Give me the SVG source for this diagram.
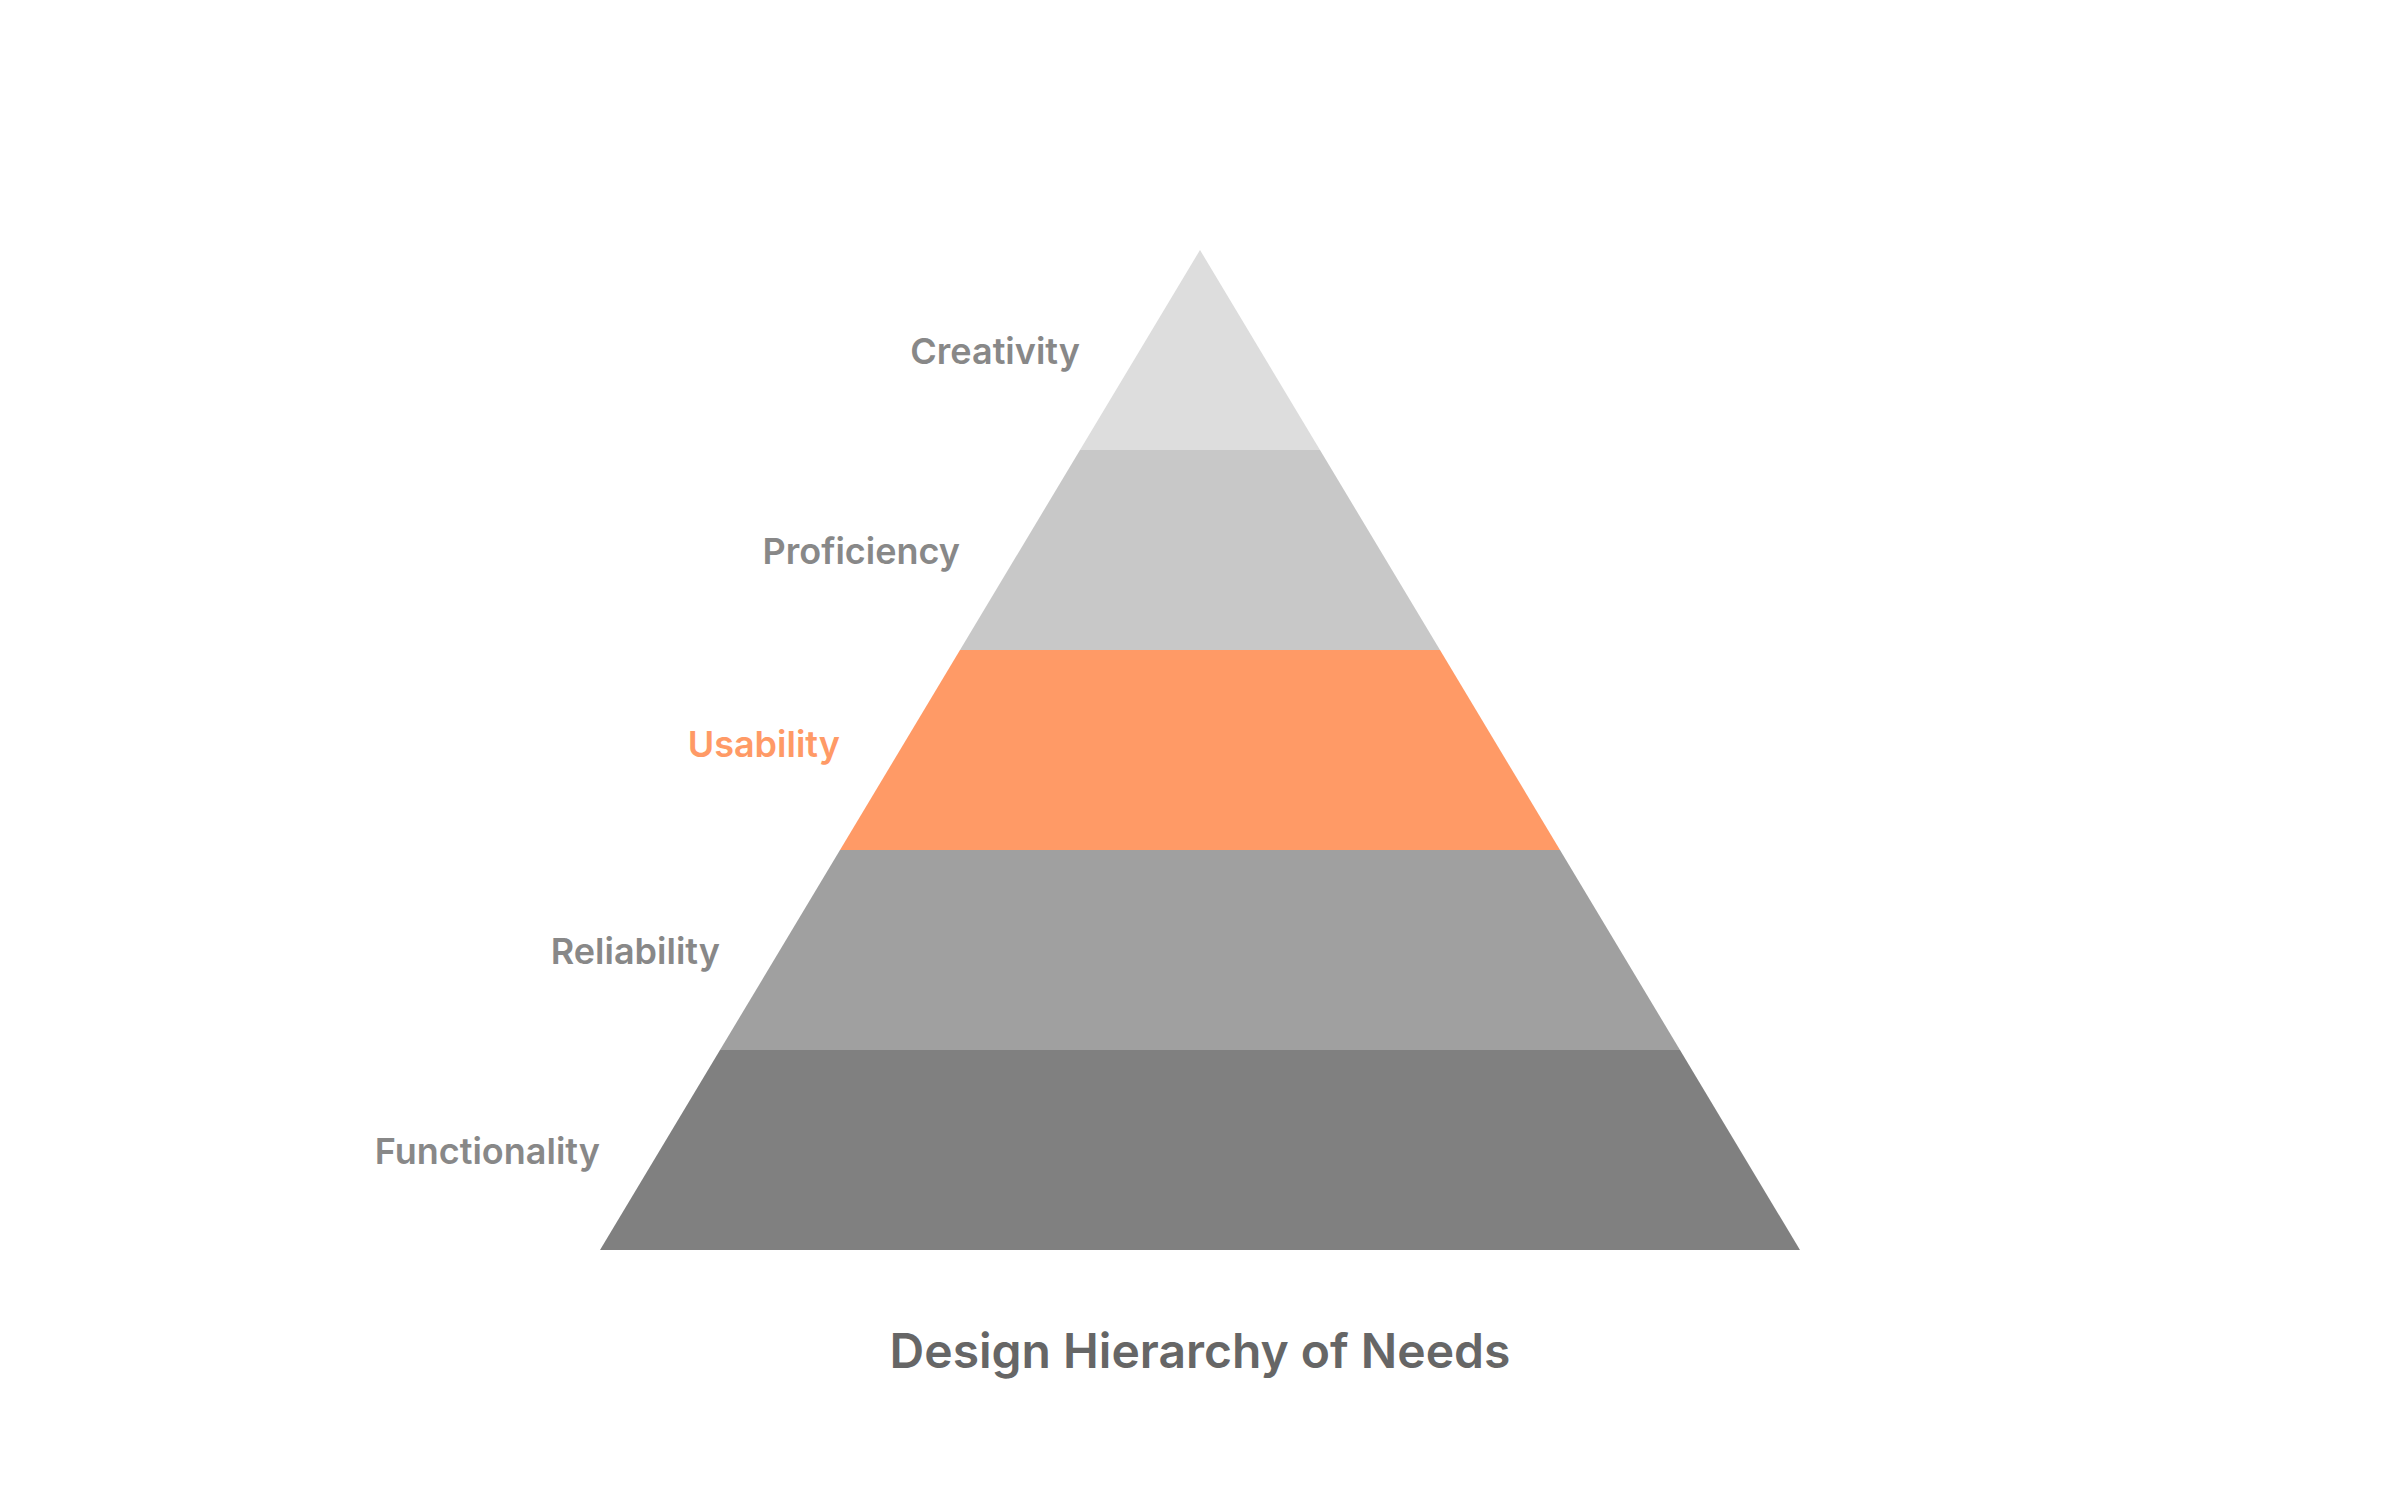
<svg xmlns="http://www.w3.org/2000/svg" width="2400" height="1500" viewBox="0 0 2400 1500">
  <style>
    .lbl { font-family: Inter, "Noto Sans", "Liberation Sans", sans-serif; font-size: 36px; font-weight: 600; fill: #888888; text-anchor: end; }
    .hl { fill: #FF9A66; }
    .title { font-family: Inter, "Noto Sans", "Liberation Sans", sans-serif; font-size: 48px; font-weight: 600; fill: #666666; text-anchor: middle; }
  </style>
  <rect width="2400" height="1500" fill="#ffffff"/>
  <g id="creativity">
    <polygon points="1200,250 1320,450 1080,450" fill="#DDDDDD"/>
    <text class="lbl" x="1080" y="364">Creativity</text>
  </g>
  <g id="proficiency">
    <polygon points="1080,450 1320,450 1440,650 960,650" fill="#C8C8C8"/>
    <text class="lbl" x="960" y="564">Proficiency</text>
  </g>
  <g id="usability">
    <polygon points="960,650 1440,650 1560,850 840,850" fill="#FF9A66"/>
    <text class="lbl hl" x="840" y="757">Usability</text>
  </g>
  <g id="reliability">
    <polygon points="840,850 1560,850 1680,1050 720,1050" fill="#A0A0A0"/>
    <text class="lbl" x="720" y="964">Reliability</text>
  </g>
  <g id="functionality">
    <polygon points="720,1050 1680,1050 1800,1250 600,1250" fill="#808080"/>
    <text class="lbl" x="600" y="1164">Functionality</text>
  </g>
  <g id="connectors"></g>
  <g id="title">
    <text class="title" x="1200" y="1368">Design Hierarchy of Needs</text>
  </g>
</svg>
